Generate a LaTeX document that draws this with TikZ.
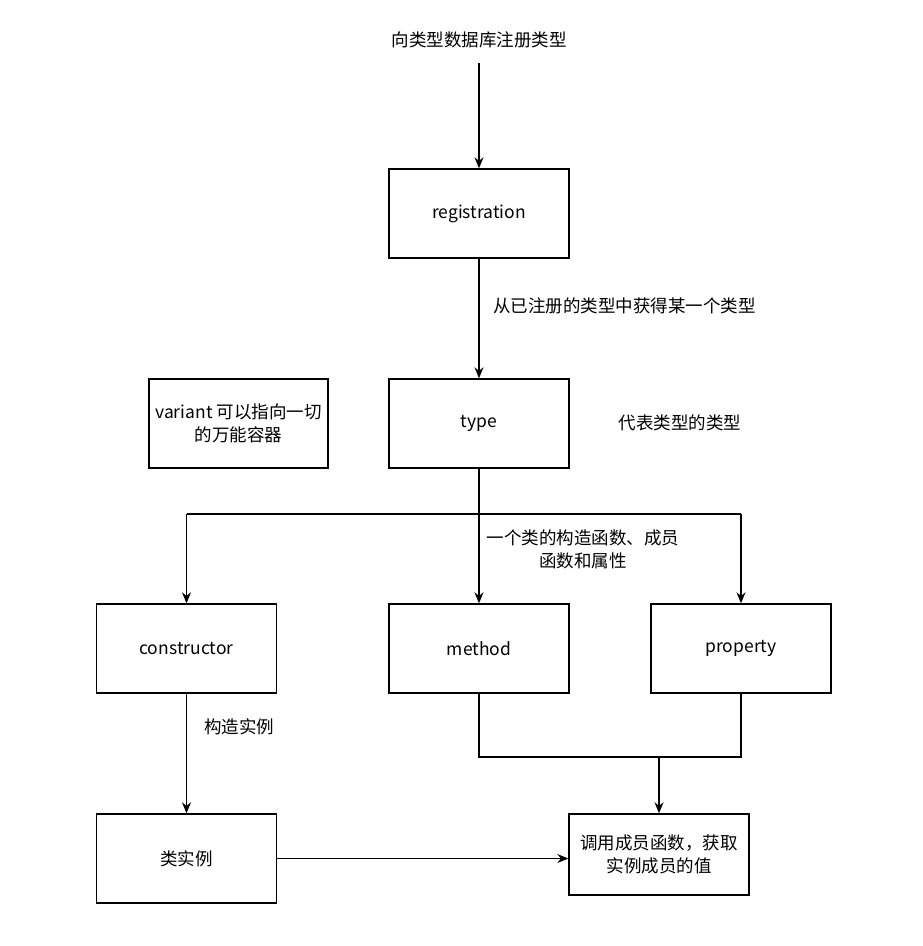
\documentclass[tikz,border=0pt]{standalone}
\usepackage{fontspec}
\setmainfont{Noto Sans CJK SC}
\usetikzlibrary{arrows.meta}
\begin{document}
\begin{tikzpicture}[x=1pt,y=-1pt,
  box/.style={draw,line width=1.4pt,minimum width=180pt,minimum height=89pt,inner sep=0pt,font=\fontsize{17.5}{23}\selectfont,align=center},
  lbl/.style={font=\fontsize{17.5}{23}\selectfont,align=center,inner sep=0pt},
  arr/.style={line width=1.4pt,-{Stealth[length=11pt,width=9pt]}},
  ln/.style={line width=1.4pt}]
\useasboundingbox (0,0) rectangle (922,946);
\node[lbl] (top) at (479,40) {向类型数据库注册类型};
\coordinate (topc) at (479,63);
\node[box] (reg) at (479,213.5) {registration};
\node[box] (type) at (479,423.5) {type};
\node[box,minimum width=179pt] (var) at (238.5,423.5) {variant 可以指向一切\\的万能容器};
\node[box] (con) at (186.5,648.5) {constructor};
\node[box] (met) at (479,648.5) {method};
\node[box] (pro) at (741,648.5) {property};
\node[box] (ins) at (186.5,858.5) {类实例};
\node[box,minimum height=81pt] (call) at (659,854.5) {调用成员函数，获取\\实例成员的值};
\node[lbl,anchor=west] (l1) at (493,306) {从已注册的类型中获得某一个类型};
\node[lbl] (l2) at (680,423) {代表类型的类型};
\node[lbl] (l3) at (583,549) {一个类的构造函数、成员\\函数和属性};
\node[lbl] (l4) at (239,727) {构造实例};
\coordinate (s) at (479,514);
\coordinate (sl) at (186.5,514);
\coordinate (sr) at (741,514);
\coordinate (m1) at (479,757);
\coordinate (m2) at (741,757);
\coordinate (m3) at (659,757);
\draw[arr] (topc) -- (reg.north);
\draw[arr] (reg.south) -- (type.north);
\draw[ln] (type.south) -- (s);
\draw[ln] (sl) -- (sr);
\draw[arr] (sl) -- (con.north);
\draw[arr] (s) -- (met.north);
\draw[arr] (sr) -- (pro.north);
\draw[arr] (con.south) -- (ins.north);
\draw[ln] (met.south) -- (m1) -- (m2) -- (pro.south);
\draw[arr] (m3) -- (call.north);
\draw[arr] (ins.east) -- (call.west|-ins.east);
\end{tikzpicture}
\end{document}
